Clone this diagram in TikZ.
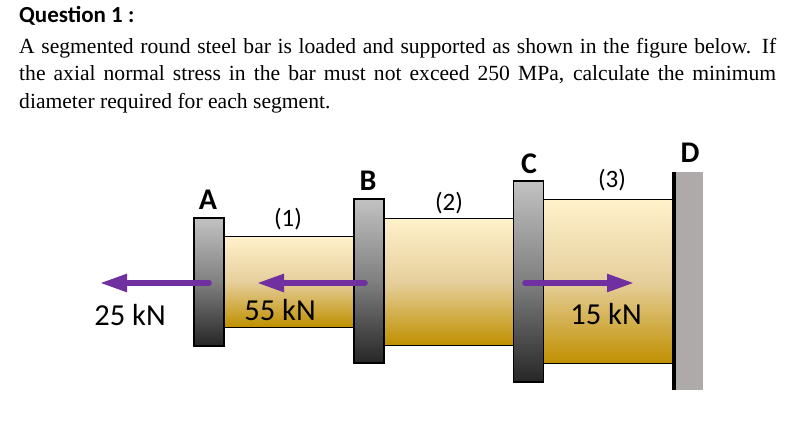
\documentclass[tikz,border=0pt]{standalone}
\usepackage{fontspec}
\setmainfont{Liberation Serif}
\newfontfamily\labelfont{Carlito}
\usetikzlibrary{arrows.meta}
\definecolor{forcecol}{HTML}{7030A0}
\definecolor{walfill}{HTML}{AEAAAA}
\definecolor{segtop}{HTML}{FFF2CC}
\definecolor{segmid}{HTML}{E6CF9C}
\definecolor{segbot}{HTML}{BF9000}
\tikzset{
  segbar/.style={draw=black,line width=1pt,outer sep=0pt,inner sep=0pt,
    top color=segtop,bottom color=segbot,middle color=segmid},
  flange/.style={draw=black,line width=1.2pt,outer sep=0pt,inner sep=0pt,
    top color=black!24,bottom color=black!85,middle color=black!50},
  force/.style={draw=forcecol,line width=5.5pt,line cap=round,
    -{Triangle[length=27pt,width=17pt,fill=forcecol]}},
  kn/.style={font=\labelfont\fontsize{30.5}{32}\selectfont,inner sep=0pt},
  seglabel/.style={font=\labelfont\fontsize{25}{27}\selectfont,inner sep=0pt},
  pointlabel/.style={font=\labelfont\bfseries\fontsize{30}{32}\selectfont,inner sep=0pt}
}
\begin{document}
\begin{tikzpicture}[x=1pt,y=-1pt]
  \useasboundingbox (0,0) rectangle (797,422);
  % heading and statement
  \node[anchor=base west,inner sep=0pt,font=\labelfont\bfseries\fontsize{23}{25}\selectfont] (title) at (19,23) {Question 1 :};
  \node[anchor=north west,inner sep=0pt,text width=757pt,align=justify,
    font=\fontsize{21.6}{27.5}\selectfont] (task) at (19,38)
    {A segmented round steel bar is loaded and supported as shown in the figure below. If\linebreak
     the axial normal stress in the bar must not exceed 250 MPa, calculate the minimum\linebreak
     diameter required for each segment.};
  % segments
  \node[segbar,minimum width=130pt,minimum height=91pt] (seg1) at (289,281.5) {};
  \node[segbar,minimum width=130pt,minimum height=127pt] (seg2) at (448.5,281.5) {};
  \node[segbar,minimum width=130pt,minimum height=164pt] (seg3) at (608,281) {};
  % flanges
  \node[flange,minimum width=30pt,minimum height=128pt] (A) at (209,282) {};
  \node[flange,minimum width=30pt,minimum height=164pt] (B) at (369,281) {};
  \node[flange,minimum width=30pt,minimum height=201pt] (C) at (528.5,281.5) {};
  % wall
  \node[fill=walfill,outer sep=0pt,inner sep=0pt,minimum width=28pt,minimum height=218pt] (wall) at (689,281) {};
  \node[fill=black,outer sep=0pt,inner sep=0pt,minimum width=3.5pt,minimum height=218pt] (face) at (674,281) {};
  % forces
  \coordinate (a0) at (209,283);
  \coordinate (a1) at (100,283);
  \coordinate (b0) at (365,283);
  \coordinate (b1) at (257,283);
  \coordinate (c0) at (525,283);
  \coordinate (c1) at (634,283);
  \draw[force] (a0) to (a1);
  \draw[force] (b0) to (b1);
  \draw[force] (c0) to (c1);
  % labels
  \node[kn] (fa) at (130,315) {25 kN};
  \node[kn] (fb) at (280,310) {55 kN};
  \node[kn] (fc) at (606,314) {15 kN};
  \node[seglabel] (l1) at (288,219) {(1)};
  \node[seglabel] (l2) at (449,203) {(2)};
  \node[seglabel] (l3) at (612,180) {(3)};
  \node[pointlabel] (nA) at (208,200) {A};
  \node[pointlabel] (nB) at (368,181) {B};
  \node[pointlabel] (nC) at (529,164) {C};
  \node[pointlabel] (nD) at (690,153) {D};
\end{tikzpicture}
\end{document}
